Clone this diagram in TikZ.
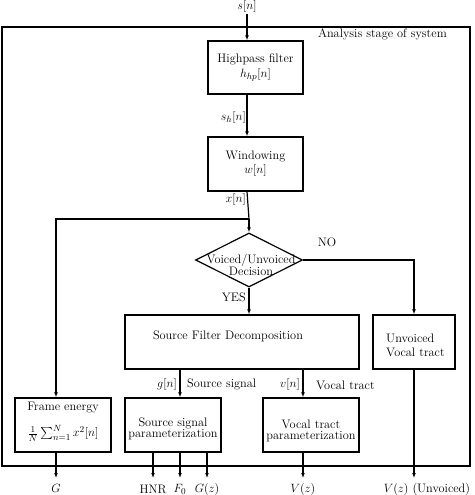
\documentclass[tikz,border=0pt]{standalone}
\usepackage{amsmath}
\usetikzlibrary{positioning, arrows.meta, shapes.geometric}
\tikzstyle{block} = [draw, rectangle, line width=1.2pt, align=center, inner sep=0pt]
\tikzstyle{decision} = [draw, diamond, line width=1.2pt, inner sep=0pt, minimum width=107pt, minimum height=54pt]
\tikzstyle{arr} = [line width=1.2pt, -{Latex[length=5pt, width=3.8pt]}]
\tikzstyle{outlbl} = [anchor=north, inner sep=0pt]

\begin{document}
\begin{tikzpicture}[x=1pt, y=-1pt, every node/.style={font=\fontsize{12.3}{14.3}\selectfont}]
	\useasboundingbox (0,0) rectangle (474,495);
	%frame
	\draw[line width=1.5pt] (2,27) rectangle (470,466);
	\node[anchor=north east, inner sep=0pt] (stage) at (447,29) {Analysis stage of system};

	%diagram
	\node[inner sep=1pt] (sn) at (247,7) {$s[n]$};
	\node[block, minimum width=95pt, minimum height=53pt] (hp) at (255.5,67.5) {Highpass filter\\$h_{hp}[n]$};
	\node[block, minimum width=95pt, minimum height=54pt] (win) at (255.5,164) {Windowing\\$w[n]$};
	\coordinate (split) at (249,219);
	\node[decision] (vud) at (249,260) {};
	\node[align=center, inner sep=0pt] (vudtxt) at (251,265) {Voiced/Unvoiced\\[-3pt]Decision};
	\node[block, minimum width=234pt, minimum height=54pt, text depth=13pt] (sfd) at (242,342) {\hspace*{-28pt}Source Filter Decomposition};
	\node[block, align=left, minimum width=82pt, minimum height=54pt] (uvt) at (414,342) {\rule{0pt}{15pt}\hspace*{3pt}Unvoiced\\\hspace*{3pt}Vocal tract};
	\node[block, minimum width=96pt, minimum height=54pt, text depth=11pt] (fe) at (63,425) {Frame energy\\[11pt]$\frac{1}{N}\sum_{n=1}^{N}x^2[n]$};
	\node[block, minimum width=96pt, minimum height=54pt] (ssp) at (173,425) {\rule{0pt}{16pt}Source signal\\[-3pt]parameterization};
	\node[block, minimum width=96pt, minimum height=54pt] (vtp) at (311,425) {\rule{0pt}{20pt}Vocal tract\\[-3pt]parameterization};

	%outputs
	\node[outlbl] (oG) at (56,484) {$G$};
	\node[outlbl] (oHNR) at (153,485) {HNR};
	\node[outlbl] (oF) at (180,484) {$F_0$};
	\node[outlbl] (oGz) at (207,483) {$G(z)$};
	\node[outlbl] (oVz) at (303,483) {$V(z)$};
	\node[outlbl] (oVu) at (427,483) {$V(z)$ (Unvoiced)};

	%connectors
	\draw[arr] (sn) -- (sn |- hp.north);
	\draw[arr] (sn |- hp.south) -- (sn |- win.north);
	\draw[line width=1.2pt] (sn |- win.south) -- (split);
	\draw[arr] (split) -- (vud.north);
	\draw[arr] (split) -| (oG |- fe.north);
	\draw[arr] (vud.south) -- (vud |- sfd.north);
	\draw[arr] (vud.east) -| (uvt.north);
	\draw[arr] (oF |- sfd.south) -- (oF |- ssp.north);
	\draw[arr] (oVz |- sfd.south) -- (oVz |- vtp.north);
	\draw[arr, shorten >=6pt] (oG |- fe.south) -- (oG.north);
	\draw[arr, shorten >=7pt] (oHNR |- ssp.south) -- (oHNR.north);
	\draw[arr, shorten >=6pt] (oF |- ssp.south) -- (oF.north);
	\draw[arr, shorten >=5pt] (oGz |- ssp.south) -- (oGz.north);
	\draw[arr, shorten >=5pt] (oVz |- vtp.south) -- (oVz.north);
	\draw[arr, shorten >=5pt] (uvt.south) -- (uvt.south |- oVu.north);

	%labels
	\node[anchor=east, inner sep=1pt] (lsh) at (247,117) {$s_h[n]$};
	\node[anchor=east, inner sep=1pt] (lx) at (247,199) {$x[n]$};
	\node (lno) at (327,242) {NO};
	\node[anchor=east, inner sep=1pt] (lyes) at (247,297) {YES};
	\node[anchor=east, inner sep=1pt] (lg) at (178,384) {$g[n]$};
	\node[anchor=west, inner sep=1pt] (lsrc) at (186,384) {Source signal};
	\node[anchor=east, inner sep=1pt] (lv) at (301,384) {$v[n]$};
	\node[anchor=west, inner sep=1pt] (lvt) at (315,385) {Vocal tract};
\end{tikzpicture}
\end{document}
